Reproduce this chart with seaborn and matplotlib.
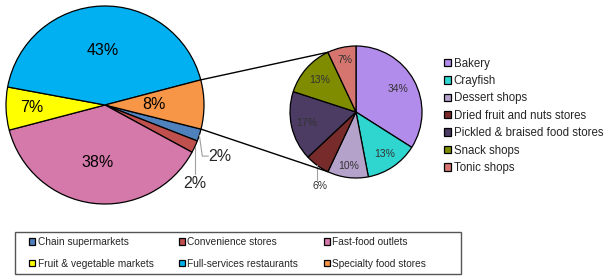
import numpy as np
import matplotlib
matplotlib.use("Agg")
import matplotlib.pyplot as plt
import matplotlib.patches as mpatches
import seaborn as sns

# main pie data (percent)
main_labels = ["Chain supermarkets", "Convenience stores", "Fast-food outlets",
               "Fruit & vegetable markets", "Full-services restaurants", "Specialty food stores"]
main_values = [2, 2, 38, 7, 43, 8]
main_colors = ["#4F81BD", "#C0504D", "#D578AA", "#FFFF00", "#00B0F0", "#F79646"]

# breakdown of specialty food stores (percent)
sub_labels = ["Bakery", "Crayfish", "Dessert shops", "Dried fruit and nuts stores",
              "Pickled & braised food stores", "Snack shops", "Tonic shops"]
sub_values = [34, 13, 10, 6, 17, 13, 7]
sub_colors = ["#B28CEB", "#2ED6CF", "#B4A2CA", "#772B2B", "#4C3B63", "#7F8C00", "#D6756F"]

sns.set_theme(style="white")
plt.rcParams["font.family"] = ["Liberation Sans", "DejaVu Sans"]

W, H = 608, 277
fig = plt.figure(figsize=(W / 100, H / 100), dpi=100)
ax = fig.add_axes([0, 0, 1, 1])

c1, r1 = (105, H - 105), 99
c2, r2 = (356, H - 112), 66

w1, _ = ax.pie(main_values, colors=main_colors, startangle=-14.1, counterclock=False,
               center=c1, radius=r1, frame=True,
               wedgeprops=dict(edgecolor="black", linewidth=0.9))
w2, _ = ax.pie(sub_values, colors=sub_colors, startangle=90, counterclock=False,
               center=c2, radius=r2, frame=True,
               wedgeprops=dict(edgecolor="black", linewidth=0.9))


def polar(c, r, ang):
    a = np.deg2rad(ang)
    return c[0] + r * np.cos(a), c[1] + r * np.sin(a)


def mid(w):
    return (w.theta1 + w.theta2) / 2


# percent labels, main pie
main_dist = [None, None, 0.59, 0.74, 0.55, 0.49]
for w, v, d in zip(w1, main_values, main_dist):
    if d is None:
        continue
    x, y = polar(c1, d * r1, mid(w))
    ax.text(x, y, f"{v}%", ha="center", va="center", fontsize=11.5, color="black")

# small slices labelled outside with leader lines
gray = "#A0A0A0"
ex, ey = polar(c1, r1, mid(w1[0]))
ax.plot([ex, ex + 3, ex + 9], [ey, ey - 21, ey - 21], color=gray, lw=0.8)
ax.text(ex + 20, ey - 21, f"{main_values[0]}%", ha="center", va="center", fontsize=11.5)
ex, ey = polar(c1, r1, mid(w1[1]))
ax.plot([ex, ex], [ey, ey - 27], color=gray, lw=0.8)
ax.text(ex, ey - 37, f"{main_values[1]}%", ha="center", va="center", fontsize=11.5)

# percent labels, second pie
sub_dist = [0.73, 0.77, 0.83, None, 0.76, 0.74, 0.80]
for w, v, d in zip(w2, sub_values, sub_dist):
    if d is None:
        continue
    x, y = polar(c2, d * r2, mid(w))
    ax.text(x, y, f"{v}%", ha="center", va="center", fontsize=7.5, color="#333333")
ex, ey = polar(c2, r2, mid(w2[3]))
ax.plot([ex, ex], [ey, ey - 15], color=gray, lw=0.8)
ax.text(ex + 3, ey - 21, f"{sub_values[3]}%", ha="center", va="center", fontsize=7.5,
        color="#333333")

# connector lines from specialty slice to the breakdown pie
spec = w1[5]
top_main = polar(c1, r1, spec.theta2)
bot_main = polar(c1, r1, spec.theta1)
top_sub = polar(c2, r2, 90 + sub_values[-1] * 3.6)
bot_sub = polar(c2, r2, -(90 + sub_values[-1] * 3.6))
ax.plot([top_main[0], top_sub[0]], [top_main[1], top_sub[1]], color="black", lw=1)
ax.plot([bot_main[0], bot_sub[0]], [bot_main[1], bot_sub[1]], color="black", lw=1)

ax.set_xlim(0, W)
ax.set_ylim(0, H)
ax.set_aspect("equal")
ax.axis("off")

# legend for breakdown pie
fig.legend(w2, sub_labels, loc="upper left", bbox_to_anchor=(444 / W, 1 - 57.5 / H),
           frameon=False, fontsize=8.3, handlelength=0.6, handleheight=0.6,
           handletextpad=0.25, labelspacing=0.47, borderpad=0, borderaxespad=0)

# bottom legend with a square box, entries filled row by row
fig.patches.append(mpatches.Rectangle((15 / W, 1 - 274 / H), 446 / W, 42 / H,
                                      transform=fig.transFigure, fill=False,
                                      edgecolor="#555555", lw=1))
order = [0, 3, 1, 4, 2, 5]
fig.legend([w1[i] for i in order], [main_labels[i] for i in order], loc="upper left",
           ncol=3, bbox_to_anchor=(29 / W, 1 - 237 / H),
           frameon=False, fontsize=7.3, handlelength=0.6, handleheight=0.6,
           handletextpad=0.25, labelspacing=1.15, columnspacing=2.5,
           borderpad=0, borderaxespad=0)

fig.savefig("out.png", dpi=100, facecolor="white")
